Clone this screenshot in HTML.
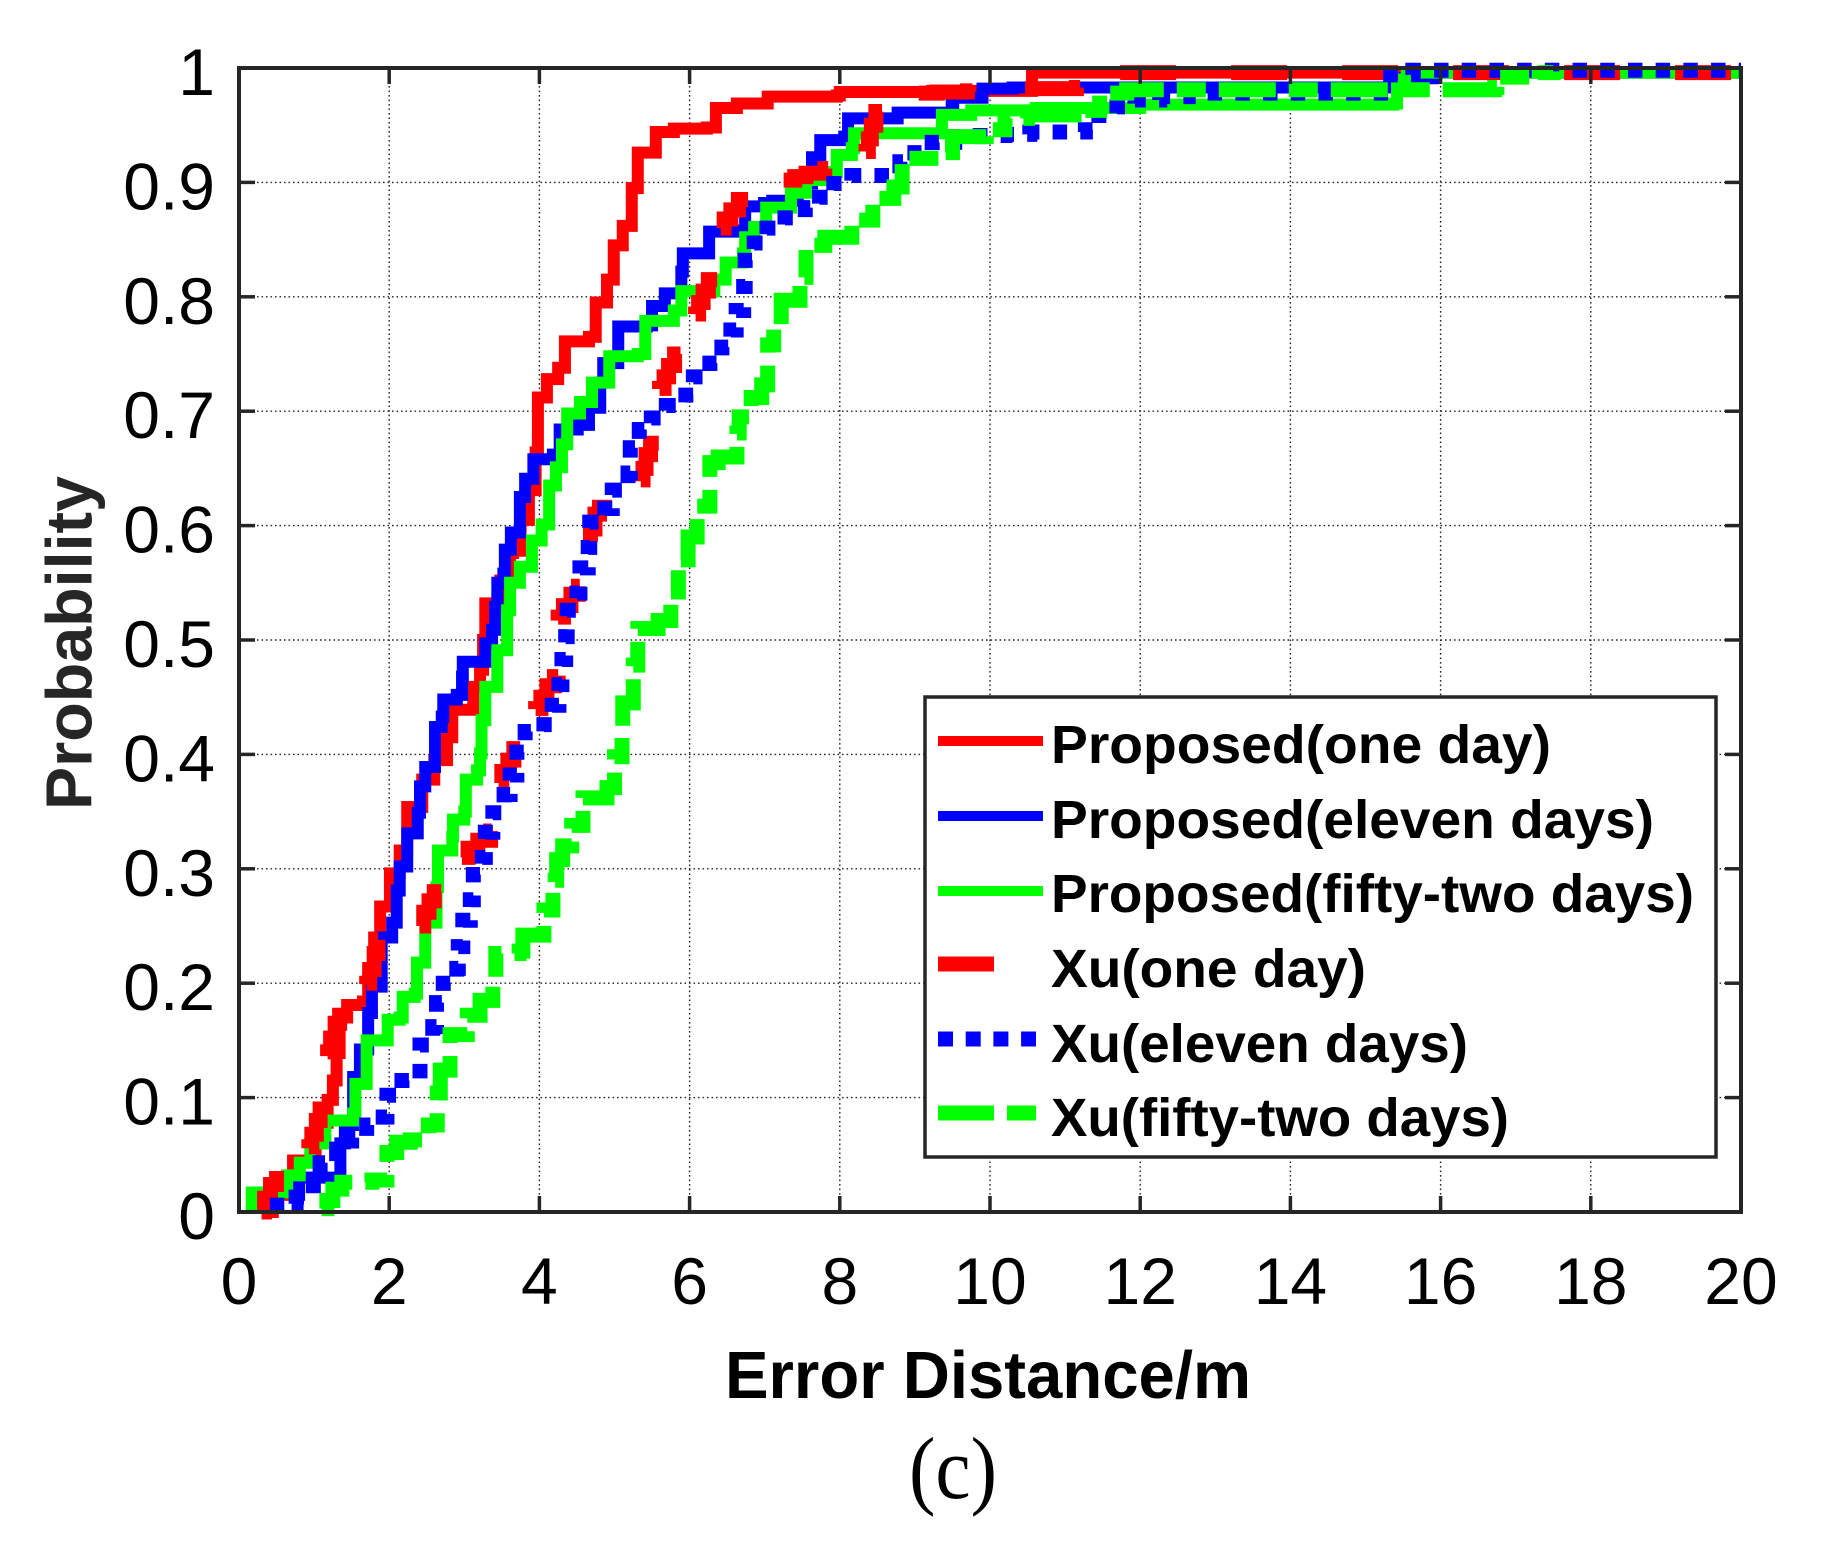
<!DOCTYPE html>
<html lang="en">
<head>
<meta charset="utf-8">
<title>Error Distance CDF (c)</title>
<style>
html,body{margin:0;padding:0;background:#fff;}
svg{display:block;}
text{font-family:"Liberation Sans",Arial,sans-serif;}
</style>
</head>
<body>
<svg id="chart" xmlns="http://www.w3.org/2000/svg" width="1828" height="1555" viewBox="0 0 1828 1555">
  <rect x="0" y="0" width="1828" height="1555" fill="#fff"/>
  <g id="grid"></g>
  <g id="series"></g>
  <g id="axes"></g>
  <text transform="translate(91.5 643) rotate(-90)" text-anchor="middle" font-size="65" font-weight="bold" fill="#262626" textLength="334" lengthAdjust="spacingAndGlyphs">Probability</text>
  <text x="725" y="1398" font-size="67" font-weight="bold" fill="#000" textLength="526" lengthAdjust="spacingAndGlyphs">Error Distance/m</text>
  <text x="909" y="1498" font-size="88" fill="#000" style="font-family:'Liberation Serif',serif" textLength="88" lengthAdjust="spacingAndGlyphs">(c)</text>
  <g>
    <rect x="925" y="697" width="791" height="460" fill="#fff" stroke="#262626" stroke-width="3.5"/>
    <line x1="938" x2="1043" y1="741" y2="741" stroke="#ff0000" stroke-width="10"/>
    <line x1="938" x2="1043" y1="816" y2="816" stroke="#0000ff" stroke-width="10"/>
    <line x1="938" x2="1043" y1="891" y2="891" stroke="#00ff00" stroke-width="10"/>
    <line x1="938" x2="994" y1="964" y2="964" stroke="#ff0000" stroke-width="15"/>
    <line x1="938" x2="1036" y1="1039" y2="1039" stroke="#0000ff" stroke-width="15" stroke-dasharray="15 12.7"/>
    <line x1="938" x2="1036" y1="1113" y2="1113" stroke="#00ff00" stroke-width="15" stroke-dasharray="56 13 29 13"/>
    <text x="1051" y="763" font-size="54" font-weight="bold" fill="#000" textLength="500" lengthAdjust="spacingAndGlyphs">Proposed(one day)</text>
    <text x="1051" y="838" font-size="54" font-weight="bold" fill="#000" textLength="603" lengthAdjust="spacingAndGlyphs">Proposed(eleven days)</text>
    <text x="1051" y="912" font-size="54" font-weight="bold" fill="#000" textLength="643" lengthAdjust="spacingAndGlyphs">Proposed(fifty-two days)</text>
    <text x="1051" y="987" font-size="54" font-weight="bold" fill="#000" textLength="315" lengthAdjust="spacingAndGlyphs">Xu(one day)</text>
    <text x="1051" y="1062" font-size="54" font-weight="bold" fill="#000" textLength="417" lengthAdjust="spacingAndGlyphs">Xu(eleven days)</text>
    <text x="1051" y="1136" font-size="54" font-weight="bold" fill="#000" textLength="458" lengthAdjust="spacingAndGlyphs">Xu(fifty-two days)</text>
  </g>
</svg>
<script>
const xTickLabels = ['0','2','4','6','8','10','12','14','16','18','20'];
const yTickLabels = ['0','0.1','0.2','0.3','0.4','0.5','0.6','0.7','0.8','0.9','1'];

const proposedOneDayX = [.38,.45,.6,.72,.95,1.02,1.12,1.18,1.25,1.3,1.34,1.44,1.65,1.72,1.8,1.88,2.01,2.14,2.24,2.44,2.6,2.77,2.84,3.1,3.12,3.21,3.25,3.28,3.48,3.61,3.65,3.75,3.86,3.95,3.98,4.1,4.25,4.34,4.66,4.75,4.9,4.99,5.11,5.23,5.31,5.55,5.79,6.23,6.35,6.63,7.04,7.96,8.0,9.13,9.23,10.56,20];
const proposedOneDayY = [0,.015,.03,.045,.047,.06,.078,.098,.115,.139,.17,.181,.184,.2,.24,.267,.296,.316,.354,.378,.395,.415,.439,.439,.459,.474,.5,.532,.552,.576,.578,.605,.631,.664,.712,.728,.738,.761,.765,.795,.815,.845,.862,.895,.926,.944,.947,.948,.965,.969,.975,.976,.979,.979,.98,.996,.996];

const proposedElevenX = [.78,.78,.8,1.25,1.35,1.41,1.52,1.61,1.72,1.77,1.9,2.04,2.1,2.14,2.24,2.38,2.41,2.48,2.61,2.61,2.7,2.72,2.9,2.97,2.98,3.25,3.28,3.37,3.41,3.44,3.52,3.54,3.62,3.74,3.81,3.92,4.18,4.27,4.51,4.66,4.81,4.85,5.05,5.05,5.43,5.5,5.67,5.89,5.91,6.26,6.26,6.68,6.74,6.99,7.1,7.44,7.63,7.74,8.06,8.11,8.77,9.49,9.51,9.9,10.3,15.4,15.46,15.9,20];
const proposedElevenY = [0,.015,.03,.03,.06,.076,.118,.142,.174,.197,.24,.253,.281,.302,.331,.349,.372,.389,.401,.424,.433,.448,.452,.468,.481,.481,.497,.509,.529,.55,.558,.579,.594,.625,.641,.658,.662,.684,.688,.703,.725,.742,.755,.774,.775,.792,.803,.822,.838,.843,.857,.858,.879,.882,.884,.899,.922,.937,.94,.956,.961,.968,.974,.982,.983,.983,.991,.996,.996];

const proposedFiftyTwoX = [.17,.17,.64,.81,.95,1.15,1.52,1.55,1.7,1.97,1.98,2.14,2.18,2.34,2.37,2.48,2.48,2.63,2.65,2.84,2.85,3.0,3.02,3.17,3.21,3.23,3.28,3.44,3.44,3.57,3.57,3.61,3.74,3.74,3.9,3.9,4.03,4.13,4.22,4.3,4.37,4.54,4.7,4.93,4.93,5.31,5.41,5.79,5.89,6.33,6.48,6.71,6.74,6.86,7.02,7.35,7.55,7.91,7.96,8.16,8.19,9.28,9.36,9.75,10.61,12,15.37,15.42,15.55,20];
const proposedFiftyTwoY = [0,.017,.032,.043,.06,.08,.086,.112,.15,.15,.168,.17,.188,.191,.218,.223,.253,.284,.316,.328,.343,.35,.378,.386,.401,.43,.459,.468,.491,.503,.526,.55,.55,.564,.567,.587,.601,.635,.651,.671,.698,.708,.725,.732,.748,.75,.779,.788,.805,.815,.83,.838,.852,.861,.878,.891,.902,.909,.924,.93,.943,.943,.959,.963,.965,.968,.969,.99,.996,.996];

const xuOneDayX = [.3,.34,.42,.5,.93,.97,1.03,1.08,1.18,1.22,1.28,1.34,1.7,1.74,1.8,1.85,2.4,2.46,2.53,2.6,2.95,3.05,3.18,3.35,3.45,3.5,3.58,3.66,3.95,4.02,4.1,4.2,4.25,4.32,4.42,4.52,4.62,4.68,4.74,4.8,5.35,5.38,5.42,5.48,5.6,5.66,5.72,5.8,6.08,6.12,6.18,6.25,6.4,6.46,6.55,6.65,7.25,7.4,7.55,7.8,8.35,8.38,8.42,8.48,9.05,9.3,9.7,10.45,11.15,11.73,20];
const xuOneDayY = [0,.012,.024,.036,.057,.068,.08,.09,.14,.152,.165,.172,.2,.212,.226,.238,.25,.262,.272,.28,.31,.318,.325,.333,.375,.385,.395,.405,.44,.45,.46,.468,.52,.53,.54,.547,.582,.597,.61,.616,.64,.65,.662,.672,.72,.73,.74,.75,.785,.795,.805,.815,.86,.868,.876,.885,.902,.905,.908,.912,.927,.938,.95,.962,.978,.979,.98,.982,.983,.996,.996];

const xuElevenX = [.41,.76,.99,1.08,1.3,1.5,1.7,1.92,1.97,2.17,2.41,2.41,2.58,2.63,2.72,2.9,2.92,2.98,3.08,3.12,3.24,3.28,3.38,3.53,3.61,3.7,3.81,4.06,4.17,4.26,4.3,4.35,4.37,4.5,4.54,4.65,4.67,4.87,4.97,5.18,5.21,5.33,5.49,5.69,5.95,6.05,6.27,6.43,6.55,6.62,6.72,6.74,6.86,7.03,7.27,7.54,7.73,7.92,8.16,8.55,8.8,9.0,9.23,9.53,9.87,10.2,10.53,10.9,11.27,11.45,11.69,11.93,12.26,12.64,15.2,15.2,15.63,20];
const xuElevenY = [.006,.013,.025,.043,.055,.065,.076,.083,.102,.115,.126,.146,.162,.183,.2,.213,.232,.255,.273,.295,.31,.332,.349,.365,.382,.402,.42,.426,.443,.461,.483,.503,.526,.541,.563,.581,.603,.615,.631,.646,.668,.684,.694,.705,.714,.73,.742,.756,.771,.788,.809,.832,.847,.86,.869,.878,.887,.899,.906,.906,.918,.926,.935,.94,.941,.942,.944,.944,.946,.959,.966,.972,.975,.978,.979,.994,.998,.998];

const xuFiftyTwoX = [1.1,1.17,1.25,1.37,1.77,1.97,2.1,2.28,2.52,2.64,2.68,2.81,3.04,3.21,3.38,3.42,3.73,3.78,4.06,4.18,4.21,4.23,4.31,4.43,4.58,4.9,5.0,5.1,5.11,5.25,5.31,5.58,5.75,5.85,5.98,6.1,6.27,6.27,6.38,6.63,6.66,6.82,6.96,7.04,7.04,7.12,7.22,7.47,7.55,7.8,8.16,8.44,8.72,8.83,9.33,9.5,9.95,10.2,10.5,11.12,11.46,11.82,15.29,16,16.72,16.75,17.2,17.5];
const xuFiftyTwoY = [.003,.01,.02,.026,.028,.052,.061,.063,.076,.104,.124,.155,.172,.185,.2,.226,.228,.242,.264,.283,.29,.308,.32,.338,.362,.371,.398,.421,.445,.478,.51,.517,.542,.57,.59,.617,.637,.655,.66,.681,.695,.712,.723,.747,.758,.775,.797,.817,.845,.852,.867,.886,.896,.921,.926,.94,.946,.956,.959,.963,.978,.981,.981,.981,.983,.992,.996,.997];

const plotLeft = 239, plotRight = 1741, plotTop = 68, plotBottom = 1212;
const NS = 'http://www.w3.org/2000/svg';
function xScale(v){ return plotLeft + (v / 20) * (plotRight - plotLeft); }
function yScale(v){ return plotBottom - v * (plotBottom - plotTop); }
function make(tag, parent, attrs){
  const el = document.createElementNS(NS, tag);
  for (const k in attrs) el.setAttribute(k, attrs[k]);
  parent.appendChild(el);
  return el;
}
const grid = document.getElementById('grid');
const axes = document.getElementById('axes');
const seriesGroup = document.getElementById('series');

xTickLabels.forEach(function(label){
  const v = parseFloat(label);
  const px = xScale(v);
  if (v > 0 && v < 20) {
    const g = make('line', grid, {x1:px, x2:px, y1:plotTop, y2:plotBottom, stroke:'#262626', 'stroke-width':1.4, 'stroke-dasharray':'1.6 2.9'});
    
    
    const t1 = make('line', axes, {x1:px, x2:px, y1:plotBottom, y2:plotBottom-16, stroke:'#262626', 'stroke-width':3.5});
    
    
    const t2 = make('line', axes, {x1:px, x2:px, y1:plotTop, y2:plotTop+16, stroke:'#262626', 'stroke-width':3.5});
    
    
  }
  const tx = make('text', axes, {x:px, y:1304, 'text-anchor':'middle', 'font-size':66, fill:'#000'});
  tx.textContent = label;
  
  
});

yTickLabels.forEach(function(label){
  const v = parseFloat(label);
  const py = yScale(v);
  if (v > 0 && v < 1) {
    const g = make('line', grid, {x1:plotLeft, x2:plotRight, y1:py, y2:py, stroke:'#262626', 'stroke-width':1.4, 'stroke-dasharray':'1.6 2.9'});
    
    
    const t1 = make('line', axes, {x1:plotLeft, x2:plotLeft+16, y1:py, y2:py, stroke:'#262626', 'stroke-width':3.5});
    
    
    const t2 = make('line', axes, {x1:plotRight, x2:plotRight-16, y1:py, y2:py, stroke:'#262626', 'stroke-width':3.5});
    
    
  }
  const ty = make('text', axes, {x:215, y:py+27, 'text-anchor':'end', 'font-size':66, fill:'#000'});
  ty.textContent = label;
  
  
});

const frame = make('rect', axes, {x:plotLeft, y:plotTop, width:plotRight-plotLeft, height:plotBottom-plotTop, fill:'none', stroke:'#262626', 'stroke-width':4});



function stepPath(xs, ys){
  let d = 'M' + xScale(xs[0]).toFixed(2) + ' ' + yScale(ys[0]).toFixed(2);
  for (let i = 1; i < xs.length; i++) {
    d += 'H' + xScale(xs[i]).toFixed(2) + 'V' + yScale(ys[i]).toFixed(2);
  }
  return d;
}
function drawSeries(name, xs, ys, color, width, dash){
  const attrs = {d:stepPath(xs, ys), fill:'none', stroke:color, 'stroke-width':width, 'stroke-linejoin':'miter', 'stroke-miterlimit':4};
  if (dash) attrs['stroke-dasharray'] = dash;
  const p = make('path', seriesGroup, attrs);
  
  
}
drawSeries('line-proposed-one-day', proposedOneDayX, proposedOneDayY, '#ff0000', 12);
drawSeries('line-proposed-eleven-days', proposedElevenX, proposedElevenY, '#0000ff', 12);
drawSeries('line-proposed-fifty-two-days', proposedFiftyTwoX, proposedFiftyTwoY, '#00ff00', 12);
drawSeries('line-xu-one-day', xuOneDayX, xuOneDayY, '#ff0000', 15, '56 55');
drawSeries('line-xu-eleven-days', xuElevenX, xuElevenY, '#0000ff', 15, '14.5 13.2');
drawSeries('line-xu-fifty-two-days', xuFiftyTwoX, xuFiftyTwoY, '#00ff00', 15, '57 13 29 13');
</script>
</body>
</html>
